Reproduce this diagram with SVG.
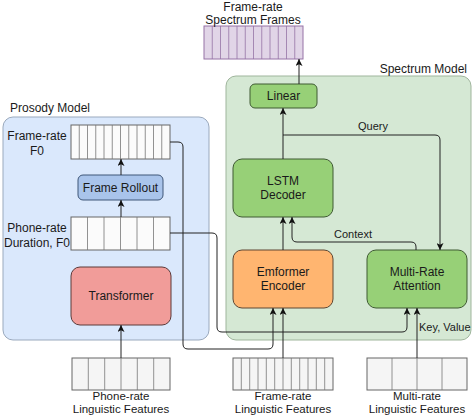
<svg xmlns="http://www.w3.org/2000/svg" width="474" height="415" viewBox="0 0 474 415">
<defs>
<marker id="arr" viewBox="0 0 10 10" refX="10" refY="5" markerWidth="7" markerHeight="7" orient="auto" markerUnits="userSpaceOnUse">
<path d="M0,0 L10,5 L0,10 L2.5,5 Z" fill="#111"/>
</marker>
<style>
text{font-family:"Liberation Sans",Arial,Helvetica,sans-serif;font-size:12px;fill:#1a1a1a;text-anchor:middle}
.cont-p{fill:#dae8fc;stroke:#9aa9bd;stroke-width:1}
.cont-s{fill:#d5e8d4;stroke:#9fb59c;stroke-width:1}
.cells{fill:#f5f5f5;stroke:#666;stroke-width:1}
.cellw{fill:#fbfbfb;stroke:#666;stroke-width:1}
.cellp{fill:#e1d5e7;stroke:#9673a6;stroke-width:1}
.div{stroke:#777;stroke-width:0.8}
.divp{stroke:#9673a6;stroke-width:0.8}
.green{fill:#97d077;stroke:#3f5a33;stroke-width:1}
.blue{fill:#a9c4eb;stroke:#3e5678;stroke-width:1}
.red{fill:#f19c99;stroke:#5c3a39;stroke-width:1}
.orange{fill:#ffb570;stroke:#5e4632;stroke-width:1}
.edge{fill:none;stroke:#222;stroke-width:1}
.lbl{font-size:11px}
.bot{font-size:11.5px}
</style>
</defs>

<g id="prosody-model">
<rect class="cont-p" x="3" y="117" width="206" height="223" rx="10"/>
<text x="50" y="112" style="text-anchor:middle">Prosody Model</text>
</g>

<g id="spectrum-model">
<rect class="cont-s" x="226" y="76" width="245" height="264" rx="10"/>
<text x="467" y="73" style="text-anchor:end">Spectrum Model</text>
</g>

<g id="spectrum-frames">
<rect class="cellp" x="204" y="26" width="99" height="33"/>
<g class="divp">
<line x1="212.25" y1="26" x2="212.25" y2="59"/><line x1="220.5" y1="26" x2="220.5" y2="59"/><line x1="228.75" y1="26" x2="228.75" y2="59"/><line x1="237" y1="26" x2="237" y2="59"/><line x1="245.25" y1="26" x2="245.25" y2="59"/><line x1="253.5" y1="26" x2="253.5" y2="59"/><line x1="261.75" y1="26" x2="261.75" y2="59"/><line x1="270" y1="26" x2="270" y2="59"/><line x1="278.25" y1="26" x2="278.25" y2="59"/><line x1="286.5" y1="26" x2="286.5" y2="59"/><line x1="294.75" y1="26" x2="294.75" y2="59"/>
</g>
<text x="253" y="11">Frame-rate</text>
<text x="253" y="24">Spectrum Frames</text>
</g>

<g id="frame-rate-f0">
<rect class="cellw" x="71" y="125" width="99" height="34"/>
<g class="div">
<line x1="79.25" y1="125" x2="79.25" y2="159"/><line x1="87.5" y1="125" x2="87.5" y2="159"/><line x1="95.75" y1="125" x2="95.75" y2="159"/><line x1="104" y1="125" x2="104" y2="159"/><line x1="112.25" y1="125" x2="112.25" y2="159"/><line x1="120.5" y1="125" x2="120.5" y2="159"/><line x1="128.75" y1="125" x2="128.75" y2="159"/><line x1="137" y1="125" x2="137" y2="159"/><line x1="145.25" y1="125" x2="145.25" y2="159"/><line x1="153.5" y1="125" x2="153.5" y2="159"/><line x1="161.75" y1="125" x2="161.75" y2="159"/>
</g>
<text x="37" y="140">Frame-rate</text>
<text x="37" y="155">F0</text>
</g>

<g id="frame-rollout">
<rect class="blue" x="78" y="175" width="85" height="25" rx="5"/>
<text x="120.5" y="192">Frame Rollout</text>
</g>

<g id="phone-rate-duration">
<rect class="cellw" x="71" y="217" width="99" height="33"/>
<g class="div">
<line x1="87.5" y1="217" x2="87.5" y2="250"/><line x1="104" y1="217" x2="104" y2="250"/><line x1="120.5" y1="217" x2="120.5" y2="250"/><line x1="137" y1="217" x2="137" y2="250"/><line x1="153.5" y1="217" x2="153.5" y2="250"/>
</g>
<text x="37" y="232">Phone-rate</text>
<text x="37" y="247">Duration, F0</text>
</g>

<g id="transformer">
<rect class="red" x="71" y="267" width="100" height="58" rx="9"/>
<text x="121" y="300">Transformer</text>
</g>

<g id="phone-rate-features">
<rect class="cells" x="72" y="358" width="98" height="32"/>
<g class="div">
<line x1="88.3" y1="358" x2="88.3" y2="390"/><line x1="104.7" y1="358" x2="104.7" y2="390"/><line x1="121" y1="358" x2="121" y2="390"/><line x1="137.3" y1="358" x2="137.3" y2="390"/><line x1="153.7" y1="358" x2="153.7" y2="390"/>
</g>
<text class="bot" x="121" y="400">Phone-rate</text>
<text class="bot" x="121" y="412.5">Linguistic Features</text>
</g>

<g id="linear">
<rect class="green" x="250" y="84" width="67" height="24" rx="5"/>
<text x="283.5" y="100">Linear</text>
</g>

<g id="lstm-decoder">
<rect class="green" x="233" y="159" width="100" height="58" rx="9"/>
<text x="283" y="185">LSTM</text>
<text x="283" y="199">Decoder</text>
</g>

<g id="emformer-encoder">
<rect class="orange" x="233" y="250" width="100" height="58" rx="9"/>
<text x="283" y="276">Emformer</text>
<text x="283" y="290">Encoder</text>
</g>

<g id="multi-rate-attention">
<rect class="green" x="367" y="250" width="100" height="58" rx="9"/>
<text x="417" y="276">Multi-Rate</text>
<text x="417" y="290">Attention</text>
</g>

<g id="frame-rate-features">
<rect class="cells" x="233" y="358" width="100" height="32"/>
<g class="div">
<line x1="241.3" y1="358" x2="241.3" y2="390"/><line x1="249.7" y1="358" x2="249.7" y2="390"/><line x1="258" y1="358" x2="258" y2="390"/><line x1="266.3" y1="358" x2="266.3" y2="390"/><line x1="274.7" y1="358" x2="274.7" y2="390"/><line x1="283" y1="358" x2="283" y2="390"/><line x1="291.3" y1="358" x2="291.3" y2="390"/><line x1="299.7" y1="358" x2="299.7" y2="390"/><line x1="308" y1="358" x2="308" y2="390"/><line x1="316.3" y1="358" x2="316.3" y2="390"/><line x1="324.7" y1="358" x2="324.7" y2="390"/>
</g>
<text class="bot" x="283" y="400">Frame-rate</text>
<text class="bot" x="283" y="412.5">Linguistic Features</text>
</g>

<g id="multi-rate-features">
<rect class="cells" x="367" y="358" width="100" height="32"/>
<g class="div">
<line x1="392" y1="358" x2="392" y2="390"/><line x1="417" y1="358" x2="417" y2="390"/><line x1="442" y1="358" x2="442" y2="390"/>
</g>
<text class="bot" x="417" y="400">Multi-rate</text>
<text class="bot" x="417" y="412.5">Linguistic Features</text>
</g>

<g id="connectors">
<path class="edge" d="M299,84 V59" marker-end="url(#arr)"/>
<path class="edge" d="M283,159 V108" marker-end="url(#arr)"/>
<path class="edge" d="M283,135 Q283,135 288,135 H435 Q440,135 440,140 V250" marker-end="url(#arr)"/>
<path class="edge" d="M416,250 V247 Q416,242 411,242 H297 Q292,242 292,237 V217" marker-end="url(#arr)"/>
<path class="edge" d="M283,250 V217" marker-end="url(#arr)"/>
<path class="edge" d="M121,175 V159" marker-end="url(#arr)"/>
<path class="edge" d="M121,217 V200" marker-end="url(#arr)"/>
<path class="edge" d="M121,358 V325" marker-end="url(#arr)"/>
<path class="edge" d="M170,142 H178 Q183,142 183,147 V344 Q183,349 188,349 H268 Q273,349 273,344 V308" marker-end="url(#arr)"/>
<path class="edge" d="M170,233 H212 Q217,233 217,238 V327 Q217,332 222,332 H402 Q407,332 407,327 V308" marker-end="url(#arr)"/>
<path class="edge" d="M283,358 V308" marker-end="url(#arr)"/>
<path class="edge" d="M417,358 V308" marker-end="url(#arr)"/>
<text class="lbl" x="373" y="130">Query</text>
<text class="lbl" x="353" y="238">Context</text>
<text class="lbl" x="419" y="331" style="text-anchor:start">Key, Value</text>
</g>
</svg>
